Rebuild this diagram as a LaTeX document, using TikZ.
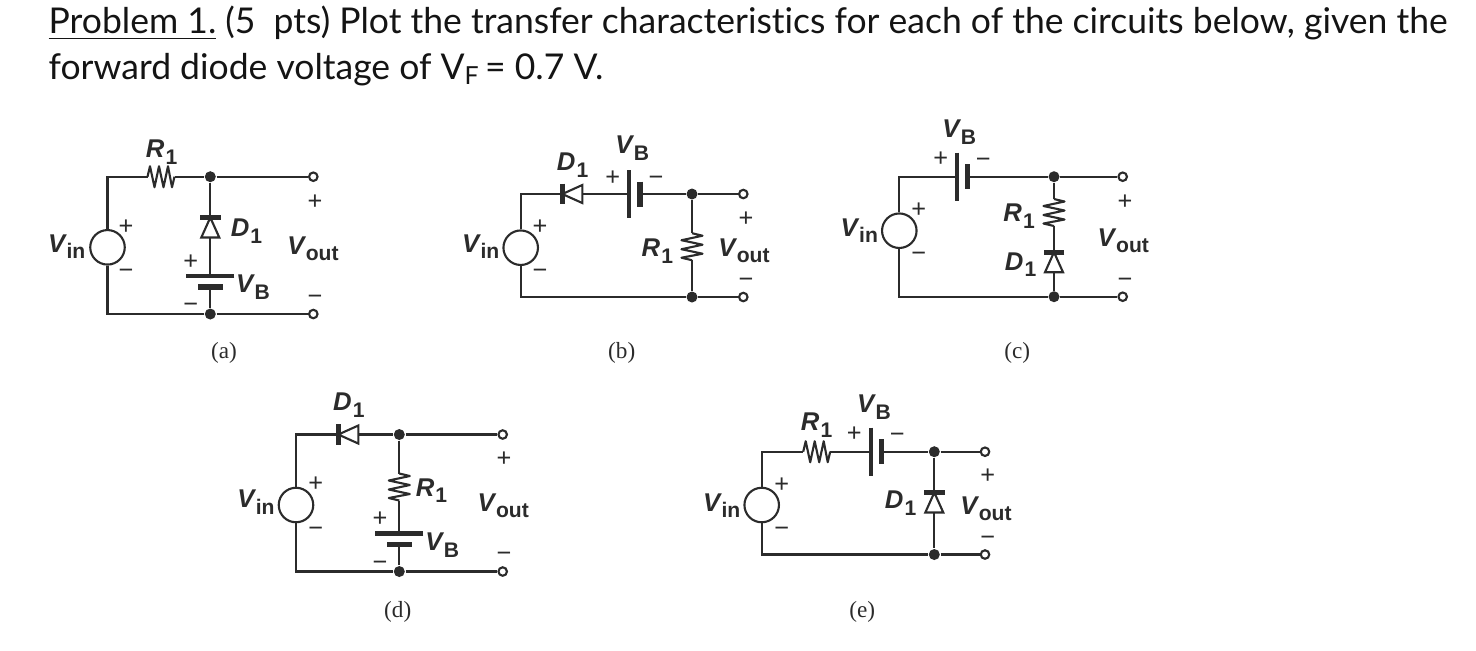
\documentclass[tikz,border=0pt]{standalone}
\usepackage{fontspec}
\setmainfont{Lato}[Ligatures=NoCommon]
\newfontfamily\helv{Liberation Sans}
\newfontfamily\capfont{Liberation Serif}
\usepackage{tikz}
\usetikzlibrary{calc}
\definecolor{wirecol}{gray}{0.17}
\definecolor{headcol}{gray}{0.08}
\newcommand{\lblname}[2]{\textit{#1}\kern-0.02em\raisebox{-1.8pt}{\fontsize{6}{6}\selectfont #2}}
\newcommand{\lblone}[1]{\lblname{#1}{\kern0.08em 1}}
\tikzset{
    wire/.style={line width=0.6pt, draw=wirecol},
    srcnode/.style={circle, wire, minimum size=0.345cm, inner sep=0pt},
    termnode/.style={circle, wire, fill=white, minimum size=0.085cm, inner sep=0pt},
    dotnode/.style={circle, fill=wirecol, minimum size=0.11cm, inner sep=0pt},
    lblnode/.style={font=\helv\bfseries\fontsize{7.3}{8}\selectfont, text=wirecol, inner sep=0pt},
    signnode/.style={font=\helv\fontsize{7.2}{8}\selectfont, text=wirecol, inner sep=0pt, text height=4.9pt, text depth=0pt},
    minusnode/.style={signnode, yshift=-0.4pt},
    capnode/.style={font=\capfont\fontsize{6.6}{8}\selectfont, text=wirecol, inner sep=0pt},
    headnode/.style={font=\fontsize{10.1}{12}\selectfont, text=headcol, anchor=base west, inner sep=0pt},
    resistor/.pic={
        \coordinate (-a) at (-13.5,0);
        \coordinate (-b) at (13.5,0);
        \draw[wire, line join=round] (-13.5,0) -- (-11,-10.5) -- (-6.5,10.5) -- (-2,-10.5) -- (2.5,10.5) -- (7,-10.5) -- (11,10.5) -- (13.5,0);
    },
    diode/.pic={
        \coordinate (-k) at (-10,0);
        \coordinate (-a) at (10,0);
        \draw[wire] (-10,0) -- (10,-9) -- (10,9) -- cycle;
        \draw[wirecol, line width=1.3pt] (-10,-10.4) -- (-10,10.4);
    },
    battery/.pic={
        \coordinate (-a) at (-5.4,0);
        \coordinate (-b) at (5.4,0);
        \draw[wirecol, line width=1.3pt] (-5.4,-24) -- (-5.4,24);
        \draw[wirecol, line width=1.6pt] (5.4,-12.5) -- (5.4,12.5);
    },
}

\begin{document}
\begin{tikzpicture}[x=0.01cm, y=-0.01cm]
    \useasboundingbox (0,0) rectangle (1476,650);

    % Problem statement
    \node[headnode] (headone) at (48,33) {\underline{Problem 1.} (5\ \ pts) Plot the transfer characteristics for each of the circuits below, given the};
    \node[headnode] (headtwo) at (48,79) {forward diode voltage of V\textsubscript{F}\kern-0.12em{} = 0.7 V.};

    % Circuit (a)
    \node[srcnode] (srca) at (107.5,247.3) {};
    \pic (ra) at (161,176.7) {resistor};
    \pic[rotate=-90] (da) at (210.3,227.5) {diode};
    \pic[rotate=-90] (ba) at (210.3,281.4) {battery};
    \node[dotnode] (topa) at (210.3,176.7) {};
    \node[dotnode] (bota) at (210.3,314) {};
    \node[termnode] (outpa) at (313.3,176.7) {};
    \node[termnode] (outma) at (313.3,314) {};
    \draw[wire] (srca.north) |- (ra-a);
    \draw[wire] (ra-b) -- (topa) -- (outpa);
    \draw[wire] (topa) -- (da-k);
    \draw[wire] (da-a) -- (ba-a);
    \draw[wire] (ba-b) -- (bota);
    \draw[wire] (srca.south) |- (bota) -- (outma);
    \node[lblnode] (vina) at (66.7,246.5) {\lblname{V}{in}};
    \node[signnode] (vinpa) at (126,226) {+};
    \node[minusnode] (vinma) at (126,268) {−};
    \node[lblnode] (r1a) at (161.7,152) {\lblone{R}};
    \node[lblnode] (d1a) at (246.5,231) {\lblone{D}};
    \node[signnode] (bpa) at (190.7,260.7) {+};
    \node[minusnode] (bma) at (190.7,302.7) {−};
    \node[lblnode] (vba) at (253,287) {\lblname{V}{B}};
    \node[signnode] (outpla) at (315,200.7) {+};
    \node[minusnode] (outmia) at (315,294) {−};
    \node[lblnode] (vouta) at (313,249) {\lblname{V}{out}};
    \node[capnode] (capa) at (224,353) {(a)};

    % Circuit (b)
    \node[srcnode] (srcb) at (520.7,247.7) {};
    \pic (db) at (572.3,194) {diode};
    \pic (bb) at (634.5,194) {battery};
    \pic[rotate=-90] (rb) at (692,246.7) {resistor};
    \node[dotnode] (topb) at (692,194) {};
    \node[dotnode] (botb) at (692,297) {};
    \node[termnode] (outpb) at (743.3,194) {};
    \node[termnode] (outmb) at (743.3,297) {};
    \draw[wire] (srcb.north) |- (db-k);
    \draw[wire] (db-a) -- (bb-a);
    \draw[wire] (bb-b) -- (topb) -- (outpb);
    \draw[wire] (topb) -- (rb-a);
    \draw[wire] (rb-b) -- (botb);
    \draw[wire] (srcb.south) |- (botb) -- (outmb);
    \node[lblnode] (vinb) at (480.7,246.5) {\lblname{V}{in}};
    \node[signnode] (vinpb) at (540,226) {+};
    \node[minusnode] (vinmb) at (540,268.3) {−};
    \node[lblnode] (d1b) at (572.7,165) {\lblone{D}};
    \node[lblnode] (vbb) at (632.3,148) {\lblname{V}{B}};
    \node[signnode] (bpb) at (612.7,176.7) {+};
    \node[minusnode] (bmb) at (656,175) {−};
    \node[lblnode] (r1b) at (657.3,251) {\lblone{R}};
    \node[signnode] (outplb) at (746,217.7) {+};
    \node[minusnode] (outmib) at (746,277.7) {−};
    \node[lblnode] (voutb) at (744,251) {\lblname{V}{out}};
    \node[capnode] (capb) at (621.7,353) {(b)};

    % Circuit (c)
    \node[srcnode] (srcc) at (899.3,230.7) {};
    \pic (bc) at (962.2,176.7) {battery};
    \pic[rotate=-90] (rc) at (1054,212.5) {resistor};
    \pic[rotate=-90] (dc) at (1054,262.2) {diode};
    \node[dotnode] (topc) at (1054,176.7) {};
    \node[dotnode] (botc) at (1054,296.7) {};
    \node[termnode] (outpc) at (1122.7,176.7) {};
    \node[termnode] (outmc) at (1122.7,296.7) {};
    \draw[wire] (srcc.north) |- (bc-a);
    \draw[wire] (bc-b) -- (topc) -- (outpc);
    \draw[wire] (topc) -- (rc-a);
    \draw[wire] (rc-b) -- (dc-k);
    \draw[wire] (dc-a) -- (botc);
    \draw[wire] (srcc.south) |- (botc) -- (outmc);
    \node[lblnode] (vinc) at (859.3,230.7) {\lblname{V}{in}};
    \node[signnode] (vinpc) at (918.7,209) {+};
    \node[minusnode] (vinmc) at (918.7,251.7) {−};
    \node[lblnode] (vbc) at (959.3,132) {\lblname{V}{B}};
    \node[signnode] (bpc) at (940.7,158.3) {+};
    \node[minusnode] (bmc) at (983.3,157.7) {−};
    \node[lblnode] (r1c) at (1019,216) {\lblone{R}};
    \node[lblnode] (d1c) at (1020.5,264.5) {\lblone{D}};
    \node[signnode] (outplc) at (1125,200.7) {+};
    \node[minusnode] (outmic) at (1125,277.7) {−};
    \node[lblnode] (voutc) at (1123.3,241) {\lblname{V}{out}};
    \node[capnode] (capc) at (1017.3,353) {(c)};

    % Circuit (d)
    \node[srcnode] (srcd) at (296,505) {};
    \pic (dd) at (348.3,434.5) {diode};
    \pic[rotate=-90] (rd) at (399.3,487) {resistor};
    \pic[rotate=-90] (bd) at (399.3,539) {battery};
    \node[dotnode] (topd) at (399.3,434.5) {};
    \node[dotnode] (botd) at (399.3,571.5) {};
    \node[termnode] (outpd) at (502.7,434.5) {};
    \node[termnode] (outmd) at (502.7,571.5) {};
    \draw[wire] (srcd.north) |- (dd-k);
    \draw[wire] (dd-a) -- (topd) -- (outpd);
    \draw[wire] (topd) -- (rd-a);
    \draw[wire] (rd-b) -- (bd-a);
    \draw[wire] (bd-b) -- (botd);
    \draw[wire] (srcd.south) |- (botd) -- (outmd);
    \node[lblnode] (vind) at (256,502.3) {\lblname{V}{in}};
    \node[signnode] (vinpd) at (315.7,483.3) {+};
    \node[minusnode] (vinmd) at (315.7,526.7) {−};
    \node[lblnode] (d1d) at (348.8,405) {\lblone{D}};
    \node[lblnode] (r1d) at (431.5,490.5) {\lblone{R}};
    \node[signnode] (bpd) at (380,518.3) {+};
    \node[minusnode] (bmd) at (380,560) {−};
    \node[lblnode] (vbd) at (442.3,545) {\lblname{V}{B}};
    \node[signnode] (outpld) at (504,457.7) {+};
    \node[minusnode] (outmid) at (504,551.7) {−};
    \node[lblnode] (voutd) at (503.3,506) {\lblname{V}{out}};
    \node[capnode] (capd) at (397.7,611.7) {(d)};

    % Circuit (e)
    \node[srcnode] (srce) at (761.7,505) {};
    \pic (re) at (816.7,451.7) {resistor};
    \pic (be) at (876.2,451.7) {battery};
    \pic[rotate=-90] (de) at (934.3,502.5) {diode};
    \node[dotnode] (tope) at (934.3,451.7) {};
    \node[dotnode] (bote) at (934.3,554.5) {};
    \node[termnode] (outpe) at (985,451.7) {};
    \node[termnode] (outme) at (985,554.5) {};
    \draw[wire] (srce.north) |- (re-a);
    \draw[wire] (re-b) -- (be-a);
    \draw[wire] (be-b) -- (tope) -- (outpe);
    \draw[wire] (tope) -- (de-k);
    \draw[wire] (de-a) -- (bote);
    \draw[wire] (srce.south) |- (bote) -- (outme);
    \node[lblnode] (vine) at (721.7,505.7) {\lblname{V}{in}};
    \node[signnode] (vinpe) at (781.7,484) {+};
    \node[minusnode] (vinme) at (781.7,526.7) {−};
    \node[lblnode] (vbe) at (874,407) {\lblname{V}{B}};
    \node[lblnode] (r1e) at (816.7,425) {\lblone{R}};
    \node[signnode] (bpe) at (854.3,433.3) {+};
    \node[minusnode] (bme) at (897.3,432.7) {−};
    \node[lblnode] (d1e) at (900.5,503) {\lblone{D}};
    \node[signnode] (outple) at (987.7,475) {+};
    \node[minusnode] (outmie) at (987.7,535) {−};
    \node[lblnode] (voute) at (986,509) {\lblname{V}{out}};
    \node[capnode] (cape) at (862.3,611.7) {(e)};
\end{tikzpicture}
\end{document}
